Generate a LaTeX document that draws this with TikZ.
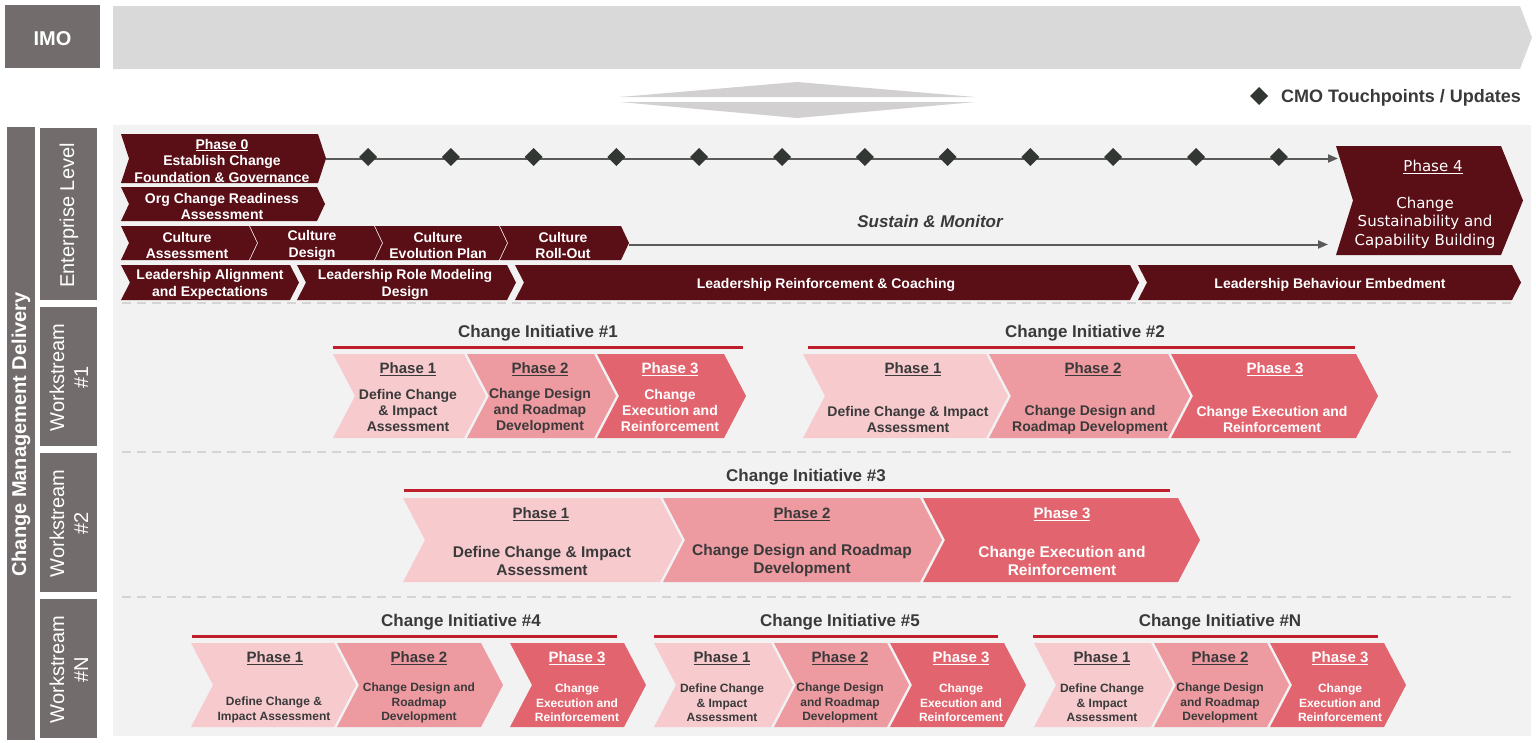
\documentclass[tikz,border=0pt]{standalone}
\usepackage{fontspec}
\setmainfont{Liberation Sans}
\newfontfamily\dvfont{DejaVu Sans}
\usetikzlibrary{arrows.meta}
\definecolor{maroon}{HTML}{5A0E16}
\definecolor{sidegray}{HTML}{736C6C}
\definecolor{barg}{HTML}{D9D9D9}
\definecolor{trig}{HTML}{D2D0D0}
\definecolor{bgg}{HTML}{F2F2F2}
\definecolor{pk1}{HTML}{F7CACE}
\definecolor{pk2}{HTML}{EE9AA1}
\definecolor{pk3}{HTML}{E2646E}
\definecolor{redl}{HTML}{BF1E2D}
\definecolor{txt}{HTML}{3A3A3A}
\definecolor{dia}{HTML}{333733}
\definecolor{sepg}{HTML}{D4D4D4}
\definecolor{linegray}{HTML}{5A5A5A}
\newcommand{\fs}[2]{\fontsize{#1}{#2}\selectfont}
\newcommand{\mychev}[6]{\fill[#6] (#1,#3) -- ({#2-#5},#3) -- (#2,{(#3+#4)/2}) -- ({#2-#5},#4) -- (#1,#4) -- ({#1+#5},{(#3+#4)/2}) -- cycle;}
\tikzset{
  every node/.style={yshift=-1.5pt},
  ent/.style={text=white, font=\bfseries\fs{14}{16.5}, align=center, inner sep=0pt},
  ptitle/.style={font=\bfseries\fs{15}{18}, inner sep=0pt},
  bA/.style={font=\bfseries\fs{14}{16}, align=center, inner sep=0pt},
  bB/.style={font=\bfseries\fs{15.5}{18}, align=center, inner sep=0pt},
  bC/.style={font=\bfseries\fs{12}{14.5}, align=center, inner sep=0pt},
  dk/.style={text=txt},
  wt/.style={text=white},
  inititle/.style={font=\bfseries\fs{17}{20}, text=txt, inner sep=0pt},
  redline/.style={draw=redl, line width=3pt},
  sepline/.style={draw=sepg, line width=2.5pt, dash pattern=on 9pt off 6pt},
  conn/.style={draw=linegray, line width=2pt, -{Triangle[length=10pt,width=8pt]}},
  sidelab/.style={rotate=90, text=white, font=\fs{20}{24}, align=center, inner sep=0pt},
}
\begin{document}
\begin{tikzpicture}[x=1pt,y=-1pt]
\useasboundingbox (0,0) rectangle (1536,742);
\fill[white] (0,0) rectangle (1536,742);

% IMO header
\fill[sidegray] (5,5) rectangle (100,68);
\node[font=\bfseries\fs{20}{24}, text=white, inner sep=0pt] (imo) at (52.5,37) {IMO};
\fill[barg] (113,6) -- (1520,6) -- (1532,37.5) -- (1520,69) -- (113,69) -- cycle;
\fill[trig] (620,97) -- (797,82) -- (975,97) -- cycle;
\fill[trig] (620,102) -- (975,102) -- (797,118) -- cycle;

% legend
\fill[dia] (1250,96) -- (1259,87) -- (1268,96) -- (1259,105) -- cycle;
\node[anchor=west, font=\bfseries\fs{18}{21}, text=txt, inner sep=0pt] (legend) at (1281,96) {CMO Touchpoints / Updates};

% background and side labels
\fill[bgg] (113,125) rectangle (1531,736);
\fill[sidegray] (7,127) rectangle (35,740);
\node[sidelab, font=\bfseries\fs{20}{24}] (cmd) at (21,433) {Change Management Delivery};
\fill[sidegray] (40,128) rectangle (97,300);
\fill[sidegray] (40,307) rectangle (97,446);
\fill[sidegray] (40,453) rectangle (97,592);
\fill[sidegray] (40,599) rectangle (97,738);
\node[sidelab] (ent) at (69,214) {Enterprise Level};
\node[sidelab] (ws1) at (69,376) {Workstream\\\#1};
\node[sidelab] (ws2) at (69,522) {Workstream\\\#2};
\node[sidelab] (wsn) at (69,668) {Workstream\\\#N};

% separators
\draw[sepline] (122,303) -- (1512,303);
\draw[sepline] (122,452) -- (1512,452);
\draw[sepline] (122,597) -- (1512,597);

% ---------- Enterprise level ----------
\mychev{121}{326}{134}{183}{8}{maroon}
\node[ent] (ph0) at (222,159) {\underline{Phase 0}\\Establish Change\\Foundation \& Governance};
\mychev{121}{325}{187}{221}{8}{maroon}
\node[ent] (ocr) at (222,205) {Org Change Readiness\\Assessment};
\mychev{121}{257}{226}{260}{8}{maroon}
\mychev{250}{382}{226}{260}{8}{maroon}
\mychev{375}{507}{226}{260}{8}{maroon}
\mychev{500}{629}{226}{260}{8}{maroon}
\node[ent] (ca) at (187,244) {Culture\\Assessment};
\node[ent] (cd) at (312,244) {Culture\\Design};
\node[ent] (ce) at (438,244) {Culture\\Evolution Plan};
\node[ent] (cr) at (563,244) {Culture\\Roll-Out};
\mychev{121}{299}{265}{300}{9}{maroon}
\mychev{297}{516}{265}{300}{9}{maroon}
\mychev{515}{1139}{265}{300}{9}{maroon}
\mychev{1138}{1521}{265}{300}{9}{maroon}
\node[ent] (la) at (210,283) {Leadership Alignment\\and Expectations};
\node[ent] (lr) at (405,283) {Leadership Role Modeling\\Design};
\node[ent] (lrc) at (826,283) {Leadership Reinforcement \& Coaching};
\node[ent] (lbe) at (1330,283) {Leadership Behaviour Embedment};

% Phase 4
\fill[maroon] (1336,146) -- (1501,146) -- (1523,200.5) -- (1501,255) -- (1336,255) -- (1353,200.5) -- cycle;
\node[text=white, font=\dvfont\fs{15}{18.5}, align=center, inner sep=0pt] (ph4t) at (1433,165) {\underline{Phase 4}};
\node[text=white, font=\dvfont\fs{15}{18.5}, align=center, inner sep=0pt] (ph4) at (1425,221) {Change\\Sustainability and\\Capability Building};

% connectors
\coordinate (p0tip) at (326,157);
\coordinate (p4in) at (1338,157);
\coordinate (crtip) at (629,243);
\coordinate (p4low) at (1328,243);
\draw[conn] (p0tip) -- (p4in);
\foreach \i in {0,...,11}{
  \fill[dia] ({368+\i*82.8-9},157) -- ({368+\i*82.8},148) -- ({368+\i*82.8+9},157) -- ({368+\i*82.8},166) -- cycle;
}
\draw[conn] (crtip) -- (p4low);
\node[font=\bfseries\itshape\fs{17}{20}, text=txt, inner sep=0pt] (sm) at (930,220) {Sustain \& Monitor};

% ---------- Workstream #1 ----------
\node[inititle] (ci1) at (538,332) {Change Initiative \#1};
\draw[redline] (333,347) -- (743,347);
\mychev{333}{486}{354}{438}{22}{pk1}
\mychev{467}{616}{354}{438}{22}{pk2}
\mychev{597}{746}{354}{438}{22}{pk3}
\node[ptitle, dk] (c1p1) at (408,368) {\underline{Phase 1}};
\node[ptitle, dk] (c1p2) at (540,368) {\underline{Phase 2}};
\node[ptitle, wt] (c1p3) at (670,368) {\underline{Phase 3}};
\node[bA, dk] (c1b1) at (408,409) {Define Change\\\& Impact\\Assessment};
\node[bA, dk] (c1b2) at (540,409) {Change Design\\and Roadmap\\Development};
\node[bA, wt] (c1b3) at (670,409) {Change\\Execution and\\Reinforcement};

\node[inititle] (ci2) at (1085,332) {Change Initiative \#2};
\draw[redline] (808,347) -- (1355,347);
\mychev{803}{1008}{354}{438}{22}{pk1}
\mychev{989}{1190}{354}{438}{22}{pk2}
\mychev{1171}{1378}{354}{438}{22}{pk3}
\node[ptitle, dk] (c2p1) at (913,368) {\underline{Phase 1}};
\node[ptitle, dk] (c2p2) at (1093,368) {\underline{Phase 2}};
\node[ptitle, wt] (c2p3) at (1275,368) {\underline{Phase 3}};
\node[bA, dk] (c2b1) at (908,418) {Define Change \& Impact\\Assessment};
\node[bA, dk] (c2b2) at (1090,418) {Change Design and\\Roadmap Development};
\node[bA, wt] (c2b3) at (1272,418) {Change Execution and\\Reinforcement};

% ---------- Workstream #2 ----------
\node[inititle] (ci3) at (806,476) {Change Initiative \#3};
\draw[redline] (404,490) -- (1170,490);
\mychev{403}{682}{498}{582}{22}{pk1}
\mychev{663}{942}{498}{582}{22}{pk2}
\mychev{923}{1200}{498}{582}{22}{pk3}
\node[ptitle, dk] (c3p1) at (541,513) {\underline{Phase 1}};
\node[ptitle, dk] (c3p2) at (802,513) {\underline{Phase 2}};
\node[ptitle, wt] (c3p3) at (1062,513) {\underline{Phase 3}};
\node[bB, dk] (c3b1) at (542,559) {Define Change \& Impact\\Assessment};
\node[bB, dk] (c3b2) at (802,559) {Change Design and Roadmap\\Development};
\node[bB, wt] (c3b3) at (1062,559) {Change Execution and\\Reinforcement};

% ---------- Workstream #N ----------
\node[inititle] (ci4) at (461,621) {Change Initiative \#4};
\draw[redline] (192,636) -- (617,636);
\mychev{191}{356}{643}{727}{22}{pk1}
\mychev{337}{503}{643}{727}{22}{pk2}
\mychev{510}{646}{643}{727}{22}{pk3}
\node[ptitle, dk] (c4p1) at (275,657) {\underline{Phase 1}};
\node[ptitle, dk] (c4p2) at (419,657) {\underline{Phase 2}};
\node[ptitle, wt] (c4p3) at (577,657) {\underline{Phase 3}};
\node[bC, dk] (c4b1) at (274,708.5) {Define Change \&\\Impact Assessment};
\node[bC, dk] (c4b2) at (419,701.5) {Change Design and\\Roadmap\\Development};
\node[bC, wt] (c4b3) at (577,701.5) {Change\\Execution and\\Reinforcement};

\node[inititle] (ci5) at (840,621) {Change Initiative \#5};
\draw[redline] (654,636) -- (998,636);
\mychev{654}{793}{643}{727}{22}{pk1}
\mychev{774}{909}{643}{727}{22}{pk2}
\mychev{890}{1026}{643}{727}{22}{pk3}
\node[ptitle, dk] (c5p1) at (722,657) {\underline{Phase 1}};
\node[ptitle, dk] (c5p2) at (840,657) {\underline{Phase 2}};
\node[ptitle, wt] (c5p3) at (961,657) {\underline{Phase 3}};
\node[bC, dk] (c5b1) at (722,701.5) {Define Change\\\& Impact\\Assessment};
\node[bC, dk] (c5b2) at (840,701.5) {Change Design\\and Roadmap\\Development};
\node[bC, wt] (c5b3) at (961,701.5) {Change\\Execution and\\Reinforcement};

\node[inititle] (cin) at (1220,621) {Change Initiative \#N};
\draw[redline] (1033,636) -- (1378,636);
\mychev{1034}{1173}{643}{727}{22}{pk1}
\mychev{1154}{1289}{643}{727}{22}{pk2}
\mychev{1270}{1406}{643}{727}{22}{pk3}
\node[ptitle, dk] (cnp1) at (1102,657) {\underline{Phase 1}};
\node[ptitle, dk] (cnp2) at (1220,657) {\underline{Phase 2}};
\node[ptitle, wt] (cnp3) at (1340,657) {\underline{Phase 3}};
\node[bC, dk] (cnb1) at (1102,701.5) {Define Change\\\& Impact\\Assessment};
\node[bC, dk] (cnb2) at (1220,701.5) {Change Design\\and Roadmap\\Development};
\node[bC, wt] (cnb3) at (1340,701.5) {Change\\Execution and\\Reinforcement};
\end{tikzpicture}
\end{document}
